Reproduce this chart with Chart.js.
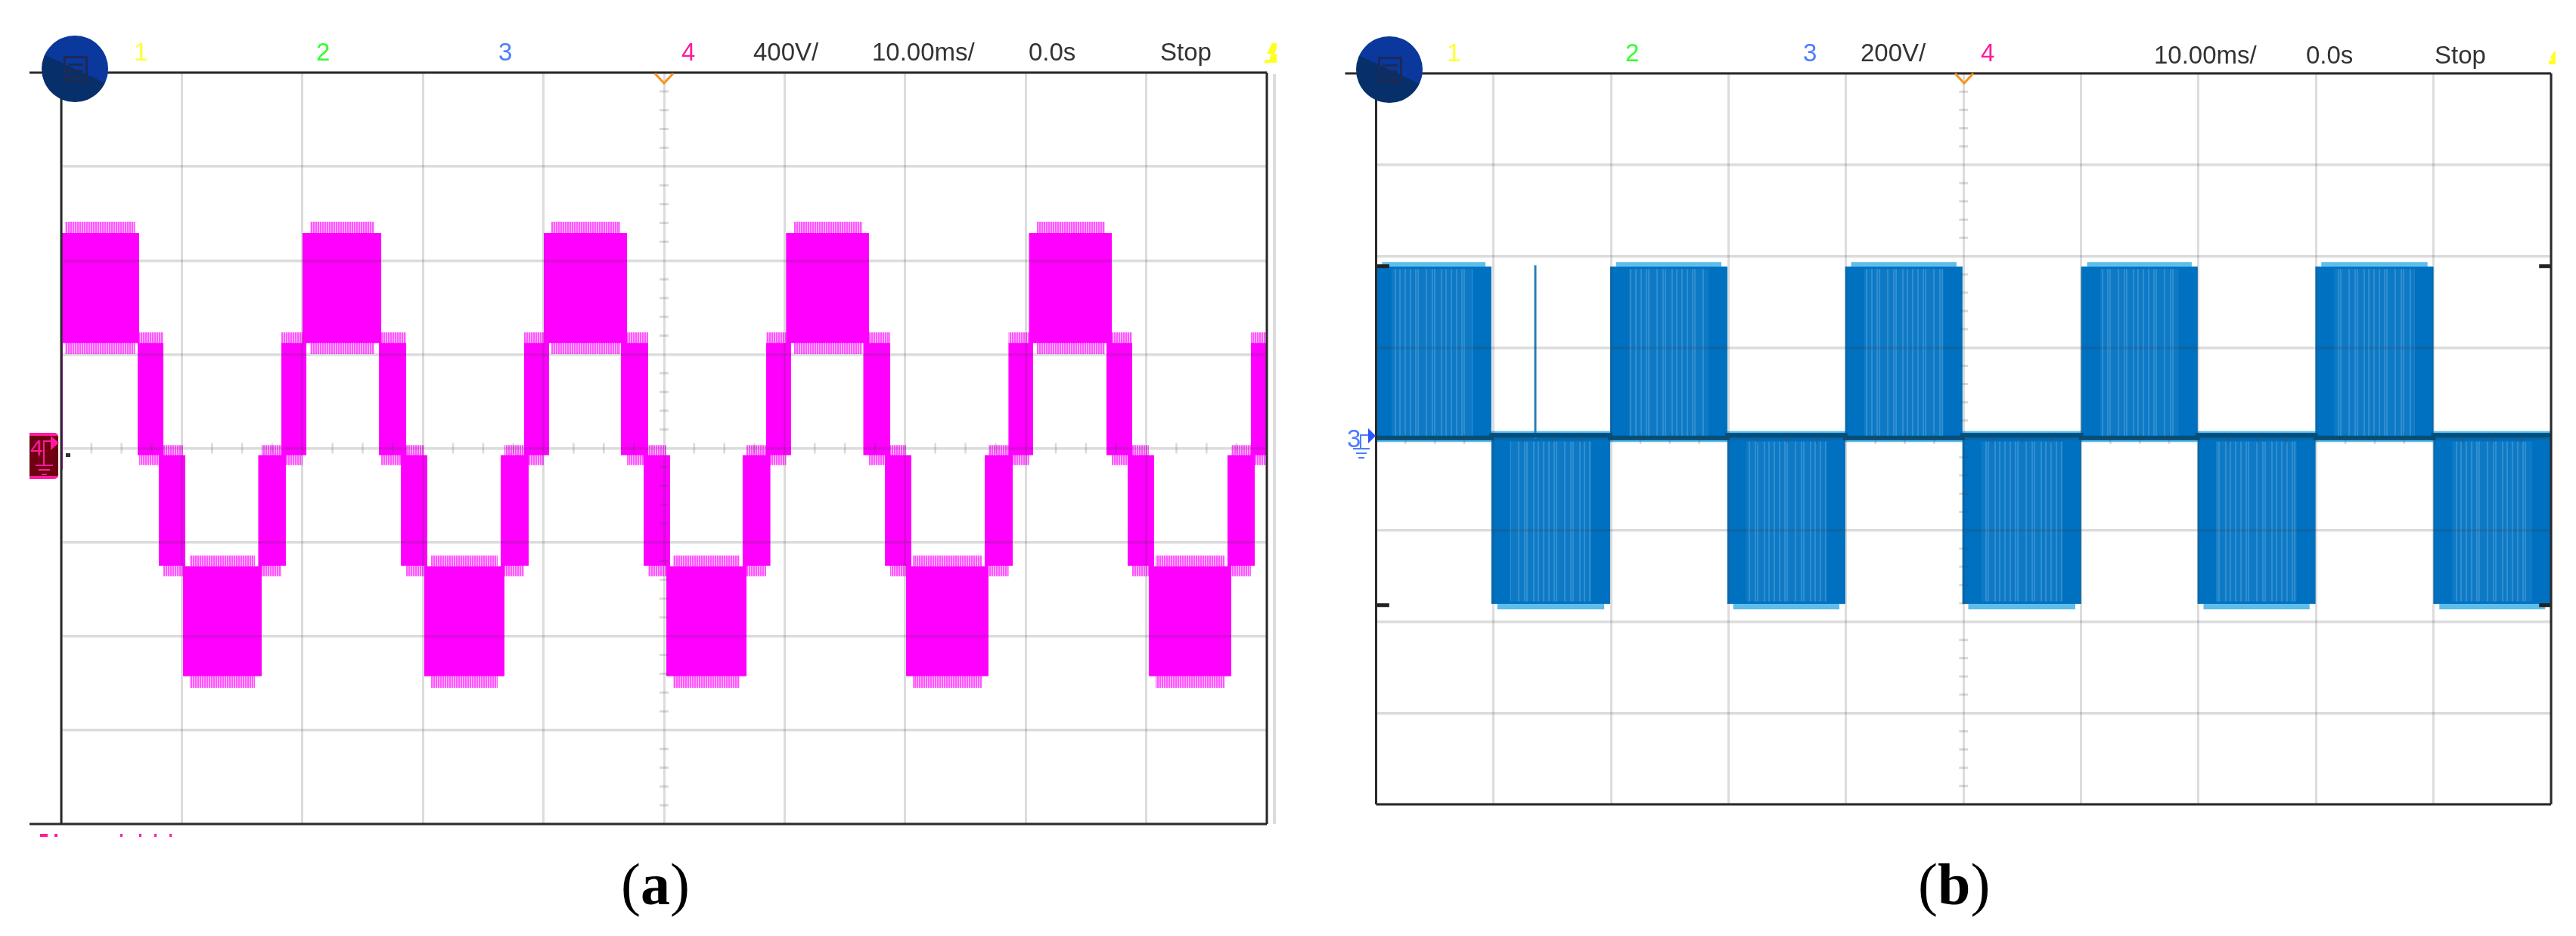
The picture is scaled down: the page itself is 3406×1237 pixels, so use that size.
<!DOCTYPE html>
<html>
<head>
<meta charset="utf-8">
<title>Inverter waveforms</title>
<script src="https://cdn.jsdelivr.net/npm/chart.js@4/dist/chart.umd.min.js"></script>
<style>
  html, body { margin: 0; background: #fff; }
  #page { position: relative; width: 3406px; height: 1237px; overflow: hidden; }
  canvas { position: absolute; top: 0; }
  .t { position: absolute; font: 33px/33px "Liberation Sans", sans-serif; color: #333; white-space: nowrap; }
  .cap { position: absolute; top: 1124px; font: 78px/90px "Liberation Serif", serif; color: #000; }
  .menu { position: absolute; width: 88px; height: 88px; border-radius: 50%; background: linear-gradient(25deg, #07306a 50%, #0a389c 50%); }
  .menu i { position: absolute; left: 29px; top: 27px; width: 26px; height: 28px; border: 3px solid #1c2a55; }
  .menu b { position: absolute; left: 35px; width: 20px; height: 3px; background: #1c2a55; }
  .trig { position: absolute; top: 96px; width: 26px; height: 16px; }
  .dot { position: absolute; top: 1102px; height: 4px; background: #ff1aa0; }
  .gnd { position: absolute; }
</style>
</head>
<body>
<div id="page">
  <canvas id="scopeA" width="1740" height="1237" style="left:0"></canvas>
  <canvas id="scopeB" width="1666" height="1237" style="left:1740px"></canvas>

  <div class="menu" style="left:55px;top:47px"><i></i><b style="top:37px"></b><b style="top:45px"></b><b style="top:53px"></b></div>
  <span class="t" style="left:177px;top:52px;color:#ffff33">1</span>
  <span class="t" style="left:418px;top:52px;color:#33ff33">2</span>
  <span class="t" style="left:659px;top:52px;color:#4d7dff">3</span>
  <span class="t" style="left:901px;top:52px;color:#ff1a9c">4</span>
  <span class="t" style="left:996px;top:52px">400V/</span>
  <span class="t" style="left:1153px;top:52px">10.00ms/</span>
  <span class="t" style="left:1360px;top:52px">0.0s</span>
  <span class="t" style="left:1534px;top:52px">Stop</span>
  <div style="position:absolute;left:1672px;top:57px;width:16px;height:26px;background:#ffff22;clip-path:polygon(60% 0,100% 0,100% 30%,80% 55%,100% 55%,100% 100%,0 100%,0 85%,40% 85%,55% 55%,20% 55%)"></div>
  <svg class="trig" style="left:865px" viewBox="0 0 26 16"><path d="M1 1 L13 14 L25 1" fill="none" stroke="#f7941d" stroke-width="3"/></svg>

  <div style="position:absolute;left:39px;top:572px;width:38px;height:61px;background:#6e0010;border-top:4px solid #ff1aa0;border-bottom:4px solid #ff1aa0;box-sizing:border-box;border-radius:0 5px 5px 0"></div>
  <span class="t" style="left:40px;top:575px;color:#ff1aa0;font-size:30px">4</span>
  <svg class="gnd" style="left:40px;top:575px" width="44" height="56" viewBox="0 0 44 56"><path d="M18 29 V8 H28 M18 29 V40 M7 40 H30 M11 46 H26 M15 52 H22" fill="none" stroke="#ff1aa0" stroke-width="2"/><path d="M27 1 L38 10 L27 20 Z" fill="#ff1aa0"/></svg>
  <div style="position:absolute;left:87px;top:599px;width:6px;height:5px;background:#333"></div>
  <div class="dot" style="left:53px;width:10px"></div>
  <div class="dot" style="left:72px;width:4px"></div>
  <div class="dot" style="left:159px;width:3px"></div>
  <div class="dot" style="left:184px;width:3px"></div>
  <div class="dot" style="left:204px;width:3px"></div>
  <div class="dot" style="left:224px;width:3px"></div>
  <span class="cap" style="left:821px">(<b>a</b>)</span>

  <div class="menu" style="left:1793px;top:48px"><i></i><b style="top:37px"></b><b style="top:45px"></b><b style="top:53px"></b></div>
  <span class="t" style="left:1913px;top:53px;color:#ffff33">1</span>
  <span class="t" style="left:2149px;top:53px;color:#33ff33">2</span>
  <span class="t" style="left:2384px;top:53px;color:#4d7dff">3</span>
  <span class="t" style="left:2460px;top:53px">200V/</span>
  <span class="t" style="left:2619px;top:53px;color:#ff1a9c">4</span>
  <span class="t" style="left:2848px;top:56px">10.00ms/</span>
  <span class="t" style="left:3049px;top:56px">0.0s</span>
  <span class="t" style="left:3219px;top:56px">Stop</span>
  <div style="position:absolute;left:3370px;top:68px;width:9px;height:17px;background:#ffff22;clip-path:polygon(80% 0,100% 0,100% 100%,0 100%,0 75%,60% 65%,20% 50%)"></div>
  <svg class="trig" style="left:2584px" viewBox="0 0 26 16"><path d="M1 1 L13 14 L25 1" fill="none" stroke="#f7941d" stroke-width="3"/></svg>

  <span class="t" style="left:1781px;top:563px;color:#4d7dff">3</span>
  <svg class="gnd" style="left:1785px;top:563px" width="36" height="50" viewBox="0 0 36 50"><path d="M14 20 V12 H24 M14 20 V30 M4 30 H26 M8 36 H22 M11 42 H19" fill="none" stroke="#4d7dff" stroke-width="2"/><path d="M24 3 L34 13 L24 23 Z" fill="#2a55ff"/></svg>
  <span class="cap" style="left:2536px">(<b>b</b>)</span>
</div>

<script>
// shared grid ticks (ms on the time axis)
const timeTicks = [-47.5, -45, -42.5, -37.5, -35, -32.5, -27.5, -25, -22.5, -17.5, -15, -12.5, -7.5, -5, -2.5,
    2.5, 5, 7.5, 12.5, 15, 17.5, 22.5, 25, 27.5, 32.5, 35, 37.5, 42.5, 45, 47.5];

// panel (a): 400 V/div
const voltTicksA = [-1520, -1440, -1360, -1280, -1120, -1040, -960, -880, -720, -640, -560, -480, -320, -240, -160, -80,
    80, 160, 240, 320, 480, 560, 640, 720, 880, 960, 1040, 1120, 1280, 1360, 1440, 1520];
const aTimes = [-50, -49.87, -43.66, -43.54, -41.91, -41.53, -39.9, -39.71, -33.66, -33.38,
    -31.74, -31.37, -29.99, -29.67, -23.65, -23.46, -21.83, -21.39, -19.89, -19.64, -13.55, -13.24,
    -11.61, -11.23, -9.97, -9.54, -3.58, -3.07, -1.69, -1.32, 0.19, 0.5, 6.52, 6.84,
    8.47, 8.82, 10.13, 10.54, 16.53, 17, 18.32, 18.76, 20.08, 20.51, 26.6, 26.91,
    28.58, 28.92, 30.28, 30.61, 36.7, 37.14, 38.46, 38.83, 40.21, 40.65, 46.74, 47.05,
    48.68, 49, 50];
const aUpper = [917, 917, 917, 449, 449, -29, -29, -503, -29, -29,
    449, 449, 917, 917, 917, 449, 449, -29, -29, -503, -29, -29,
    449, 449, 917, 917, 917, 449, 449, -29, -29, -503, -29, -29,
    449, 449, 917, 917, 917, 449, 449, -29, -29, -503, -29, -29,
    449, 449, 917, 917, 917, 449, 449, -29, -29, -503, -29, -29,
    449, 449, 449];
const aLower = [-90, 449, -29, -29, -500, -500, -970, -970, -970, -500,
    -500, -29, -29, 449, -29, -29, -500, -500, -970, -970, -970, -500,
    -500, -29, -29, 449, -29, -29, -500, -500, -970, -970, -970, -500,
    -500, -29, -29, 449, -29, -29, -500, -500, -970, -970, -970, -500,
    -500, -29, -29, 449, -29, -29, -500, -500, -970, -970, -970, -500,
    -500, -29, -29];
const aFuzzTimes = [-50, -49.69, -43.88, -43.54, -41.53, -39.9, -39.34, -33.94, -33.38, -31.74,
    -29.99, -29.36, -24.03, -23.46, -21.39, -19.89, -19.32, -13.8, -13.24, -11.61,
    -9.97, -9.35, -3.64, -3.07, -1.32, 0.19, 0.75, 6.27, 6.84, 8.47,
    10.13, 10.79, 16.44, 17, 18.76, 20.08, 20.64, 26.35, 26.91, 28.58,
    30.28, 30.93, 36.57, 37.14, 38.83, 40.21, 40.78, 46.49, 47.05, 48.68, 50];
const aFuzzUpper = [917, 965, 917, 494, 14, -503, -457, -503, 14, 494,
    917, 965, 917, 494, 14, -503, -457, -503, 14, 494,
    917, 965, 917, 494, 14, -503, -457, -503, 14, 494,
    917, 965, 917, 494, 14, -503, -457, -503, 14, 494,
    917, 965, 917, 494, 14, -503, -457, -503, 14, 494, 494];
const aFuzzLower = [449, 401, 449, -72, -545, -970, -1020, -970, -545, -72,
    449, 401, 449, -72, -545, -970, -1020, -970, -545, -72,
    449, 401, 449, -72, -545, -970, -1020, -970, -545, -72,
    449, 401, 449, -72, -545, -970, -1020, -970, -545, -72,
    449, 401, 449, -72, -545, -970, -1020, -970, -545, -72, -72];

// panel (b): 200 V/div
const voltTicksB = [-760, -720, -680, -640, -560, -520, -480, -440, -360, -320, -280, -240, -160, -120, -80, -40,
    40, 80, 120, 160, 240, 280, 320, 360, 440, 480, 520, 560, 640, 680, 720, 760];
const bTimes = [-50, -40.19, -30.08, -20.11, -10.07, -0.1, 10.01, 19.92, 29.95, 39.99, 50];
const bUpper = [377, 13, 377, 13, 377, 13, 377, 13, 377, 13, 13];
const bLower = [-2, -361, -2, -361, -2, -361, -2, -361, -2, -361, -361];
const bBase = [2, 8, 2, 8, 2, 8, 2, 8, 2, 8, 8];
const bFuzzTimes = [-50, -49.5, -40.69, -40.19, -39.69, -30.58, -30.08, -29.58, -20.61, -20.11, -19.61, -10.57,
    -10.07, -9.57, -0.6, -0.1, 0.4, 9.51, 10.01, 10.51, 19.42, 19.92, 20.42, 29.45, 29.95, 30.45, 39.49, 39.99, 40.49, 49.5, 50];
const bFuzzUpper = [377, 387, 377, 17, 17, 17, 377, 387, 377, 17, 17, 17,
    377, 387, 377, 17, 17, 17, 377, 387, 377, 17, 17, 17, 377, 387, 377, 17, 17, 17, 17];
const bFuzzLower = [-7, -7, -7, -361, -373, -361, -7, -7, -7, -361, -373, -361,
    -7, -7, -7, -361, -373, -361, -7, -7, -7, -361, -373, -361, -7, -7, -7, -361, -373, -361, -361];
const bStripeTimes = [-48.7, -41.79, -38.59, -31.68, -28.48, -21.71, -18.51, -11.67, -8.47, -1.7,
    1.5, 8.41, 11.61, 18.32, 21.52, 28.35, 31.55, 38.39, 41.59, 48.4, 50];
const bStripeUpper = [372, 0, -6, 0, 372, 0, -6, 0, 372, 0, -6, 0, 372, 0, -6, 0, 372, 0, -6, 0, 0];
const bStripeLower = [6, 0, -356, 0, 6, 0, -356, 0, 6, 0, -356, 0, 6, 0, -356, 0, 6, 0, -356, 0, 0];
const bSpikeTimes = [-36.45, -36.45];
const bSpikeVolts = [0, 380];
const bCursorTimes = [-49.4, -49.4, 49.5, 49.5];
const bCursorVolts = [378, -364, 378, -364];

const pts = (xs, ys) => xs.map((x, i) => ({ x, y: ys[i] }));

function stripes(width, base, streak, positions) {
    const c = document.createElement('canvas');
    c.width = width;
    c.height = 4;
    const g = c.getContext('2d');
    g.fillStyle = base;
    g.fillRect(0, 0, width, 4);
    g.fillStyle = streak;
    positions.forEach(p => g.fillRect(p, 0, 2, 4));
    return g.createPattern(c, 'repeat');
}

// filled band between two stepped envelopes
const band = (xs, hi, lo, color) => [
    { data: pts(xs, hi), stepped: 'before', fill: '+1', backgroundColor: color, borderWidth: 0, pointRadius: 0 },
    { data: pts(xs, lo), stepped: 'before', fill: false, borderWidth: 0, pointRadius: 0 }
];

const tickColor = 'rgba(70,70,70,0.2)';
const axisTicks = (times, volts) => [
    { data: times.map(x => ({ x, y: 0 })), showLine: false, pointStyle: 'line', pointRotation: 90, pointRadius: 7, pointBorderWidth: 2.5, pointBorderColor: tickColor },
    { data: volts.map(y => ({ x: 0, y })), showLine: false, pointStyle: 'line', pointRadius: 6, pointBorderWidth: 3, pointBorderColor: tickColor }
];

const framePlugin = {
    id: 'frame',
    afterDraw(chart, args, opts) {
        const { ctx, chartArea: a } = chart;
        ctx.save();
        ctx.strokeStyle = '#2a2a2a';
        ctx.lineWidth = 3;
        ctx.beginPath();
        ctx.moveTo(a.left - opts.stubTop, a.top);
        ctx.lineTo(a.right, a.top);
        ctx.moveTo(a.left - opts.stubBottom, a.bottom);
        ctx.lineTo(a.right, a.bottom);
        ctx.moveTo(a.left, a.top);
        ctx.lineTo(a.left, a.bottom);
        ctx.moveTo(a.right, a.top);
        ctx.lineTo(a.right, a.bottom);
        ctx.stroke();
        if (opts.outer) {
            ctx.strokeStyle = '#dcdcdc';
            ctx.lineWidth = 4;
            ctx.beginPath();
            ctx.moveTo(a.right + 10, a.top + 2);
            ctx.lineTo(a.right + 10, a.bottom);
            ctx.stroke();
        }
        ctx.restore();
    }
};

function scope(id, datasets, vMax, vStep, padding, frame) {
    const gridColor = 'rgba(60,60,60,0.18)';
    return new Chart(document.getElementById(id), {
        type: 'line',
        data: { datasets },
        options: {
            responsive: false,
            animation: false,
            layout: { padding },
            plugins: { legend: { display: false }, tooltip: { enabled: false }, frame },
            elements: { line: { tension: 0 } },
            scales: {
                x: {
                    type: 'linear', min: -50, max: 50,
                    ticks: { stepSize: 10, display: false },
                    grid: { color: gridColor, lineWidth: 3, drawTicks: false, z: 1 },
                    border: { display: false }
                },
                y: {
                    type: 'linear', min: -vMax, max: vMax,
                    ticks: { stepSize: vStep, display: false },
                    grid: { color: gridColor, lineWidth: 3.5, drawTicks: false, z: 1 },
                    border: { display: false }
                }
            }
        },
        plugins: [framePlugin]
    });
}

scope('scopeA', [
    ...axisTicks(timeTicks, voltTicksA),
    ...band(aTimes, aUpper, aLower, '#ff00ff'),
    ...band(aFuzzTimes, aFuzzUpper, aFuzzLower, stripes(6, 'rgba(255,0,255,0.25)', 'rgba(255,0,255,0.55)', [0, 3]))
], 1600, 400, { left: 81, top: 96, right: 65, bottom: 148 }, { stubTop: 42, stubBottom: 42, outer: true });

scope('scopeB', [
    { data: pts(bCursorTimes, bCursorVolts), showLine: false, pointStyle: 'line', pointRadius: 8, pointBorderWidth: 5, pointBorderColor: '#222' },
    ...axisTicks(timeTicks, voltTicksB),
    { data: pts(bTimes, bBase), stepped: 'before', borderColor: '#00507f', borderWidth: 6, pointRadius: 0 },
    { data: pts(bSpikeTimes, bSpikeVolts), borderColor: '#2a7fb5', borderWidth: 3, pointRadius: 0 },
    ...band(bStripeTimes, bStripeUpper, bStripeLower, stripes(61, 'rgba(50,150,215,0.28)', 'rgba(95,170,222,0.42)', [2, 9, 12, 23, 31, 34, 43, 49, 56])),
    ...band(bTimes, bUpper, bLower, '#0070c0'),
    ...band(bFuzzTimes, bFuzzUpper, bFuzzLower, '#5fbdea')
], 800, 200, { left: 79.5, top: 97, right: 33, bottom: 174 }, { stubTop: 41, stubBottom: 0, outer: false });
</script>
</body>
</html>
